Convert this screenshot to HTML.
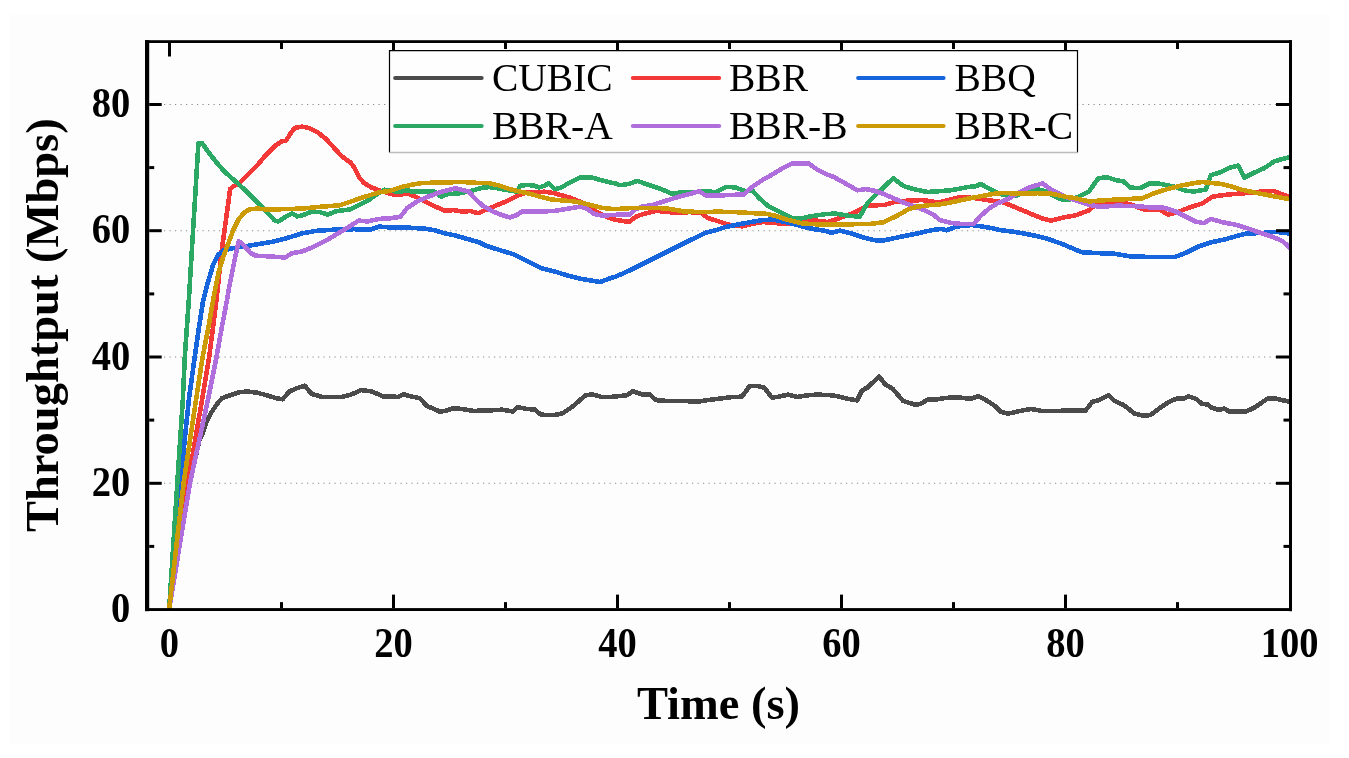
<!DOCTYPE html>
<html><head><meta charset="utf-8"><title>Throughput</title>
<style>
html,body{margin:0;padding:0;background:#fff;}
body{width:1349px;height:758px;position:relative;overflow:hidden;}
.panel{position:absolute;left:10px;top:15px;width:1320px;height:729px;background:#fdfdfd;}
svg{position:absolute;left:0;top:0;}
.tl{font-family:"Liberation Serif",serif;font-weight:bold;font-size:38.5px;fill:#000;}
.at{font-family:"Liberation Serif",serif;font-weight:bold;font-size:46.5px;fill:#000;}
.lg{font-family:"Liberation Serif",serif;font-size:39.5px;fill:#000;}
</style></head>
<body><div class="panel"></div>
<svg width="1349" height="758" viewBox="0 0 1349 758">
<line x1="147.5" y1="483.2" x2="1289" y2="483.2" stroke="#8a8a8a" stroke-width="1.1" stroke-dasharray="1.2 4.3"/>
<line x1="147.5" y1="357.0" x2="1289" y2="357.0" stroke="#8a8a8a" stroke-width="1.1" stroke-dasharray="1.2 4.3"/>
<line x1="147.5" y1="230.8" x2="1289" y2="230.8" stroke="#8a8a8a" stroke-width="1.1" stroke-dasharray="1.2 4.3"/>
<line x1="147.5" y1="104.5" x2="1289" y2="104.5" stroke="#8a8a8a" stroke-width="1.1" stroke-dasharray="1.2 4.3"/>
<polyline points="169.2,608.8 189.8,483.0 199.2,441.0 203.0,432.2 206.1,422.7 210.9,413.2 217.2,403.7 222.0,398.2 228.3,395.8 239.4,392.3 247.3,391.4 256.8,392.7 266.0,395.0 275.8,398.1 282.6,399.3 289.5,391.3 296.3,388.4 304.8,385.7 311.6,393.9 321.9,396.8 342.3,396.8 350.9,394.7 361.1,390.1 371.3,391.3 383.2,396.4 398.5,396.9 403.6,394.2 410.5,396.4 419.8,398.1 426.7,405.8 432.6,408.4 440.3,411.8 446.3,410.6 453.1,408.4 461.6,408.9 473.5,410.9 485.5,410.6 502.5,409.7 512.8,411.4 517.9,407.2 526.4,408.9 534.9,409.6 540.9,414.7 553.7,415.2 562.2,413.5 572.4,406.7 585.2,395.6 592.0,394.2 601.4,396.9 611.7,396.9 626.9,395.3 632.9,391.2 642.3,394.4 650.0,394.4 655.9,400.1 666.2,400.9 683.2,400.9 696.8,401.8 710.5,399.7 730.9,397.2 742.0,396.7 749.7,385.9 756.5,385.9 764.2,387.6 771.9,397.5 778.7,396.7 788.1,394.6 797.4,397.0 807.7,395.3 816.2,394.6 828.1,395.0 836.7,396.1 848.5,398.9 857.0,400.4 862.2,390.3 867.3,387.6 879.2,376.5 885.2,384.4 892.9,389.0 903.1,400.9 915.0,404.7 920.1,404.0 927.8,399.7 935.5,399.7 942.3,398.4 950.8,397.5 959.4,397.5 971.3,398.9 978.1,396.1 984.9,399.6 993.5,404.8 1001.1,412.0 1007.9,413.7 1019.0,411.2 1031.0,408.9 1041.2,410.8 1054.8,411.2 1065.0,410.6 1085.5,410.6 1092.3,401.8 1097.4,400.6 1108.5,395.3 1114.4,400.9 1123.0,404.7 1134.9,413.7 1143.4,415.8 1150.3,415.1 1160.5,407.4 1170.7,400.9 1177.5,398.4 1184.4,398.4 1188.6,396.3 1196.3,398.9 1201.4,403.5 1208.2,404.7 1211.6,407.7 1218.5,409.8 1224.4,408.6 1229.5,411.7 1245.7,411.7 1254.3,407.7 1261.1,403.0 1267.9,398.4 1276.4,398.7 1289.5,401.8" fill="none" stroke="#4b4b4b" stroke-width="4.6" stroke-linejoin="round" stroke-linecap="round" shape-rendering="crispEdges"/>
<polyline points="169.2,608.8 187.8,483.0 202.0,400.0 209.2,357.0 216.5,300.0 221.6,251.5 230.2,188.9 233.6,186.3 240.5,182.0 249.0,173.5 257.6,164.9 266.2,154.6 274.8,146.0 281.6,141.4 285.9,140.9 290.2,134.0 294.5,128.0 302.2,126.6 309.1,128.0 317.7,132.3 326.2,139.2 334.8,148.6 341.7,156.3 350.2,162.3 353.7,166.6 358.8,176.9 364.0,182.9 370.8,187.2 379.4,190.3 388.0,193.2 396.9,195.2 407.2,193.4 415.7,196.9 424.3,201.2 434.6,206.3 444.9,210.6 453.5,210.1 462.0,211.5 470.6,211.1 478.3,213.2 486.1,209.7 496.3,205.5 506.6,201.2 518.6,195.2 527.2,192.2 535.8,192.6 544.4,191.7 552.9,192.9 561.5,195.2 570.1,197.7 578.7,201.2 587.3,204.9 595.8,211.5 606.1,216.6 613.0,219.2 620.0,220.5 628.7,222.0 635.6,216.9 642.4,214.3 656.2,210.9 666.5,211.7 676.7,213.1 688.8,212.1 700.8,212.6 707.6,217.8 717.9,221.2 728.2,224.6 741.9,226.3 752.2,223.8 762.5,222.0 772.8,222.9 786.5,223.8 796.8,222.0 803.7,220.3 814.0,220.3 827.7,222.0 838.0,218.6 850.3,214.3 858.9,210.4 867.4,205.7 884.6,204.9 896.6,201.5 908.6,200.6 922.3,200.1 930.9,201.1 937.8,202.8 949.8,199.7 960.1,197.2 970.4,197.7 980.6,198.9 990.9,200.6 1003.0,202.3 1011.5,205.7 1021.8,210.0 1032.1,214.3 1042.4,218.6 1051.0,220.7 1059.6,218.6 1065.0,217.2 1075.3,215.5 1089.0,210.3 1095.9,204.3 1106.2,201.8 1119.9,202.1 1130.2,204.3 1143.9,209.5 1159.3,209.5 1167.9,214.6 1178.2,212.0 1188.5,207.8 1202.2,203.5 1212.5,196.6 1228.0,194.5 1245.1,193.2 1253.7,192.3 1262.3,191.5 1274.3,191.1 1281.1,194.0 1289.5,196.6" fill="none" stroke="#f33838" stroke-width="4.6" stroke-linejoin="round" stroke-linecap="round" shape-rendering="crispEdges"/>
<polyline points="169.2,608.8 180.3,483.0 188.8,400.0 194.7,357.0 198.6,330.0 202.9,302.0 207.9,282.3 213.0,265.2 218.2,254.9 223.3,250.6 233.6,248.0 247.3,246.0 261.1,243.7 271.3,242.0 285.1,238.6 302.2,233.4 315.9,230.9 336.5,229.5 353.7,229.2 370.8,229.5 379.4,226.6 390.0,227.4 410.6,227.8 424.3,228.6 434.6,230.3 444.9,233.4 455.2,235.5 467.2,238.9 479.2,242.3 486.0,245.8 499.8,250.1 513.5,254.3 523.8,259.5 535.8,265.5 540.9,268.1 554.7,271.5 568.4,275.8 578.7,278.4 589.0,280.1 600.1,282.1 609.6,278.4 615.0,276.9 628.7,270.9 642.4,264.1 659.6,255.5 675.0,247.8 692.2,239.2 705.9,232.7 714.5,230.6 724.8,227.2 735.1,225.1 748.8,222.4 760.8,220.3 772.8,219.5 781.4,221.2 793.4,223.8 803.7,226.8 814.0,229.2 824.3,230.6 831.1,232.7 836.3,231.5 840.0,230.6 850.3,233.2 862.3,237.1 874.3,240.1 881.2,240.9 891.5,238.8 905.2,235.8 918.9,233.2 930.9,230.3 941.2,228.9 946.3,230.3 954.9,227.2 963.5,225.5 972.1,225.1 980.6,226.3 990.9,228.0 1001.2,230.3 1011.5,231.5 1025.2,233.7 1035.5,235.8 1045.8,238.3 1056.1,241.8 1065.0,245.0 1073.6,248.9 1082.2,252.3 1099.3,253.2 1113.0,253.6 1130.2,256.3 1150.8,257.0 1174.8,257.0 1185.1,253.2 1198.8,246.3 1210.8,242.4 1224.5,239.5 1236.5,236.1 1246.8,233.5 1262.3,233.0 1276.0,231.8 1289.5,233.5" fill="none" stroke="#1765dc" stroke-width="4.6" stroke-linejoin="round" stroke-linecap="round" shape-rendering="crispEdges"/>
<polyline points="169.2,608.8 177.3,483.0 182.8,400.0 184.8,357.0 188.8,300.0 198.4,143.4 201.9,142.9 209.6,153.7 219.9,166.6 226.7,173.5 235.3,181.2 245.6,190.6 255.9,200.9 262.8,207.7 274.8,220.6 278.2,221.5 285.1,217.2 291.9,213.4 297.1,216.3 302.2,215.5 310.8,212.0 319.4,212.0 328.0,214.6 336.5,211.1 350.2,209.4 358.8,205.2 367.4,200.9 376.0,194.9 384.6,189.8 390.0,190.0 398.6,192.2 407.2,190.0 412.3,191.7 434.6,191.7 441.5,196.9 446.6,194.3 458.6,193.4 470.6,190.9 482.6,187.8 489.5,187.1 498.1,188.3 506.6,190.0 516.9,191.7 520.4,185.7 527.2,184.9 534.1,185.7 539.2,187.4 544.4,185.7 548.7,183.2 554.7,189.2 561.5,187.4 570.1,182.3 580.4,177.2 590.7,177.2 599.3,179.7 609.6,182.3 615.0,183.4 620.1,185.2 628.7,184.0 637.3,180.9 649.3,185.2 661.3,189.1 671.6,193.7 683.6,192.0 695.6,192.0 705.9,191.5 716.2,192.0 726.5,186.9 735.1,187.4 745.4,191.2 752.2,190.3 759.1,198.0 767.7,205.7 778.0,210.9 786.5,215.2 793.4,218.6 800.2,218.6 812.3,216.0 824.3,214.3 834.6,213.5 840.0,214.3 850.3,216.0 859.7,216.6 867.4,203.2 879.5,191.2 893.2,178.3 903.5,186.0 913.8,189.1 927.5,192.0 939.5,191.2 949.8,190.3 960.1,188.6 968.6,186.9 975.5,186.4 980.6,184.0 987.5,187.7 994.4,191.5 1003.0,194.9 1011.5,196.3 1016.7,195.5 1025.2,191.2 1037.3,189.1 1045.8,191.2 1056.1,197.2 1063.0,199.7 1070.0,199.5 1078.7,196.6 1089.0,191.5 1098.4,178.1 1107.9,177.4 1116.5,180.3 1123.3,181.2 1130.2,187.7 1140.5,188.0 1149.0,183.7 1159.3,183.7 1174.8,186.7 1185.1,190.6 1193.6,191.5 1205.7,189.7 1210.8,175.2 1219.4,172.6 1229.7,167.8 1238.2,165.7 1244.2,177.7 1253.7,172.9 1264.0,168.3 1274.3,161.4 1282.8,158.9 1289.5,157.2" fill="none" stroke="#2aa864" stroke-width="4.6" stroke-linejoin="round" stroke-linecap="round" shape-rendering="crispEdges"/>
<polyline points="169.2,608.8 190.0,483.0 207.9,400.0 216.5,357.0 221.3,330.0 227.0,300.0 228.8,289.2 235.3,256.6 238.8,241.2 242.2,243.7 250.8,253.2 255.9,255.7 267.9,256.3 285.1,257.5 291.9,253.2 302.2,251.5 310.8,248.0 328.0,239.5 345.1,229.2 358.8,220.6 367.4,221.4 379.4,218.9 390.0,218.3 400.3,216.9 407.2,208.0 417.4,201.2 427.7,196.9 441.5,191.7 455.2,188.3 468.9,191.7 475.8,199.5 482.6,205.5 492.9,211.5 501.5,214.9 510.1,217.5 516.9,214.9 522.1,211.5 535.8,211.5 553.0,211.1 566.7,208.9 580.4,206.7 587.3,208.9 594.1,214.0 602.7,215.7 613.0,214.9 630.4,214.3 633.9,210.0 642.4,206.6 652.7,204.9 666.5,200.6 680.2,196.3 690.5,193.7 699.0,191.2 705.9,195.5 717.9,195.5 731.6,194.9 743.6,194.6 752.2,186.9 762.5,180.0 774.5,173.2 783.1,168.0 791.7,163.7 808.8,163.7 817.4,169.7 826.0,174.0 834.6,177.4 840.0,180.5 848.6,185.2 857.2,190.3 865.7,189.1 874.3,190.8 884.6,194.3 894.9,198.9 905.2,203.2 915.5,206.6 925.8,210.9 934.3,215.2 939.5,220.0 951.5,222.9 960.1,223.8 973.8,223.8 980.6,216.0 989.2,208.3 997.8,203.2 1008.1,198.9 1020.1,192.0 1028.7,187.7 1042.4,183.4 1051.0,189.5 1059.6,193.7 1065.0,196.6 1078.7,201.4 1087.3,204.3 1099.3,206.9 1116.5,205.7 1133.6,206.0 1150.8,207.4 1162.8,207.4 1174.8,211.2 1185.1,216.3 1195.4,221.5 1203.9,223.2 1210.8,218.9 1222.8,222.3 1236.5,224.9 1250.2,229.2 1262.3,233.5 1272.5,236.9 1282.8,241.2 1289.5,247.5" fill="none" stroke="#b06ddc" stroke-width="4.6" stroke-linejoin="round" stroke-linecap="round" shape-rendering="crispEdges"/>
<polyline points="169.2,608.8 183.6,483.0 196.0,400.0 202.6,357.0 207.9,330.0 213.5,298.0 218.2,273.8 223.3,256.6 228.5,242.9 233.6,229.2 238.8,218.9 243.9,212.9 249.0,209.4 257.6,208.6 267.9,209.5 285.1,209.1 302.2,208.6 319.4,206.9 340.0,205.2 350.2,201.8 362.3,197.5 379.4,192.3 390.0,190.9 400.3,187.4 410.6,184.9 420.9,183.2 434.6,182.6 448.3,182.3 462.0,182.0 475.8,182.8 489.5,183.2 499.8,185.7 510.1,189.2 520.4,191.7 530.7,194.0 540.9,196.9 551.2,199.5 561.5,200.3 571.8,201.2 582.1,202.9 592.4,205.5 602.7,208.0 615.0,209.2 632.2,208.0 649.3,208.0 666.5,208.3 683.6,211.4 700.8,212.1 717.9,211.7 735.1,212.1 752.2,213.1 766.0,213.8 776.2,216.0 786.5,219.5 796.8,222.0 802.0,223.4 812.3,224.1 824.3,224.6 840.0,224.6 857.2,224.1 870.9,223.8 882.9,222.4 896.6,216.0 908.6,209.2 917.2,206.6 929.2,205.2 939.5,204.5 951.5,202.3 966.9,198.9 980.6,196.3 994.4,193.7 1003.0,192.9 1020.1,193.7 1037.3,193.2 1051.0,193.7 1065.0,196.6 1075.3,198.3 1089.0,201.4 1107.9,200.0 1125.0,199.2 1142.2,198.3 1154.2,193.2 1167.9,188.9 1181.6,185.5 1193.6,183.2 1202.2,182.0 1219.4,183.7 1228.0,185.5 1241.7,189.7 1253.7,192.3 1270.8,195.7 1289.5,199.2" fill="none" stroke="#cc9a04" stroke-width="4.6" stroke-linejoin="round" stroke-linecap="round" shape-rendering="crispEdges"/>
<rect x="145" y="40.2" width="4.2" height="571" fill="#000"/>
<rect x="1289" y="40.2" width="3" height="571" fill="#000"/>
<rect x="145" y="40.2" width="1147" height="2.8" fill="#000"/>
<rect x="145" y="608.1" width="1147" height="2.9" fill="#000"/>
<rect x="168.0" y="43" width="3" height="13.5" fill="#000"/>
<rect x="280.0" y="602.1" width="3" height="6" fill="#000"/>
<rect x="280.0" y="43" width="3" height="6" fill="#000"/>
<rect x="392.0" y="594.6" width="3" height="13.5" fill="#000"/>
<rect x="392.0" y="43" width="3" height="13.5" fill="#000"/>
<rect x="504.0" y="602.1" width="3" height="6" fill="#000"/>
<rect x="504.0" y="43" width="3" height="6" fill="#000"/>
<rect x="616.0" y="594.6" width="3" height="13.5" fill="#000"/>
<rect x="616.0" y="43" width="3" height="13.5" fill="#000"/>
<rect x="728.0" y="602.1" width="3" height="6" fill="#000"/>
<rect x="728.0" y="43" width="3" height="6" fill="#000"/>
<rect x="840.0" y="594.6" width="3" height="13.5" fill="#000"/>
<rect x="840.0" y="43" width="3" height="13.5" fill="#000"/>
<rect x="952.0" y="602.1" width="3" height="6" fill="#000"/>
<rect x="952.0" y="43" width="3" height="6" fill="#000"/>
<rect x="1064.0" y="594.6" width="3" height="13.5" fill="#000"/>
<rect x="1064.0" y="43" width="3" height="13.5" fill="#000"/>
<rect x="1176.0" y="602.1" width="3" height="6" fill="#000"/>
<rect x="1176.0" y="43" width="3" height="6" fill="#000"/>
<rect x="149.2" y="544.9" width="5" height="3" fill="#000"/>
<rect x="1283.5" y="544.9" width="5.5" height="3" fill="#000"/>
<rect x="149.2" y="481.8" width="12.5" height="3" fill="#000"/>
<rect x="1276.0" y="481.8" width="13.0" height="3" fill="#000"/>
<rect x="149.2" y="418.6" width="5" height="3" fill="#000"/>
<rect x="1283.5" y="418.6" width="5.5" height="3" fill="#000"/>
<rect x="149.2" y="355.5" width="12.5" height="3" fill="#000"/>
<rect x="1276.0" y="355.5" width="13.0" height="3" fill="#000"/>
<rect x="149.2" y="292.4" width="5" height="3" fill="#000"/>
<rect x="1283.5" y="292.4" width="5.5" height="3" fill="#000"/>
<rect x="149.2" y="229.2" width="12.5" height="3" fill="#000"/>
<rect x="1276.0" y="229.2" width="13.0" height="3" fill="#000"/>
<rect x="149.2" y="166.1" width="5" height="3" fill="#000"/>
<rect x="1283.5" y="166.1" width="5.5" height="3" fill="#000"/>
<rect x="149.2" y="103.0" width="12.5" height="3" fill="#000"/>
<rect x="1276.0" y="103.0" width="13.0" height="3" fill="#000"/>
<text transform="translate(169.5,656.5) scale(1,1.07)" text-anchor="middle" class="tl">0</text>
<text transform="translate(393.5,656.5) scale(1,1.07)" text-anchor="middle" class="tl">20</text>
<text transform="translate(617.5,656.5) scale(1,1.07)" text-anchor="middle" class="tl">40</text>
<text transform="translate(841.5,656.5) scale(1,1.07)" text-anchor="middle" class="tl">60</text>
<text transform="translate(1065.5,656.5) scale(1,1.07)" text-anchor="middle" class="tl">80</text>
<text transform="translate(1289.5,656.5) scale(1,1.07)" text-anchor="middle" class="tl">100</text>
<text transform="translate(130.3,622.1) scale(1,1.07)" text-anchor="end" class="tl">0</text>
<text transform="translate(130.3,495.9) scale(1,1.07)" text-anchor="end" class="tl">20</text>
<text transform="translate(130.3,369.6) scale(1,1.07)" text-anchor="end" class="tl">40</text>
<text transform="translate(130.3,243.3) scale(1,1.07)" text-anchor="end" class="tl">60</text>
<text transform="translate(130.3,117.1) scale(1,1.07)" text-anchor="end" class="tl">80</text>
<text transform="translate(718.5,718.6) scale(1,1.01)" text-anchor="middle" class="at">Time (s)</text>
<text transform="translate(57.6,325.2) rotate(-90) scale(1,1.01)" text-anchor="middle" class="at">Throughtput (Mbps)</text>
<rect x="389.5" y="50.7" width="688" height="101.8" fill="#fefefe" stroke="none"/>
<path d="M389.5,152.5 V50.7 H1077.5 V152.5" fill="none" stroke="#000" stroke-width="1.2"/>
<line x1="389.5" y1="152.5" x2="1077.5" y2="152.5" stroke="#bdbdbd" stroke-width="1.4"/>
<line x1="395.1" y1="78.0" x2="481.7" y2="78.0" stroke="#4b4b4b" stroke-width="4" stroke-linecap="round"/>
<text transform="translate(492.0,91.1) scale(1,1.0)" class="lg">CUBIC</text>
<line x1="632.8" y1="78.0" x2="719.2" y2="78.0" stroke="#f33838" stroke-width="4" stroke-linecap="round"/>
<text transform="translate(729.0,91.1) scale(1,1.0)" class="lg">BBR</text>
<line x1="858.0999999999999" y1="78.0" x2="943.6" y2="78.0" stroke="#1765dc" stroke-width="4" stroke-linecap="round"/>
<text transform="translate(954.5,91.1) scale(1,1.0)" class="lg">BBQ</text>
<line x1="395.1" y1="126.0" x2="481.7" y2="126.0" stroke="#2aa864" stroke-width="4" stroke-linecap="round"/>
<text transform="translate(492.0,139.3) scale(1,1.0)" class="lg">BBR-A</text>
<line x1="632.8" y1="126.0" x2="719.2" y2="126.0" stroke="#b06ddc" stroke-width="4" stroke-linecap="round"/>
<text transform="translate(729.0,139.3) scale(1,1.0)" class="lg">BBR-B</text>
<line x1="858.0999999999999" y1="126.0" x2="943.6" y2="126.0" stroke="#cc9a04" stroke-width="4" stroke-linecap="round"/>
<text transform="translate(954.5,139.3) scale(1,1.0)" class="lg">BBR-C</text>
</svg>
</body></html>
